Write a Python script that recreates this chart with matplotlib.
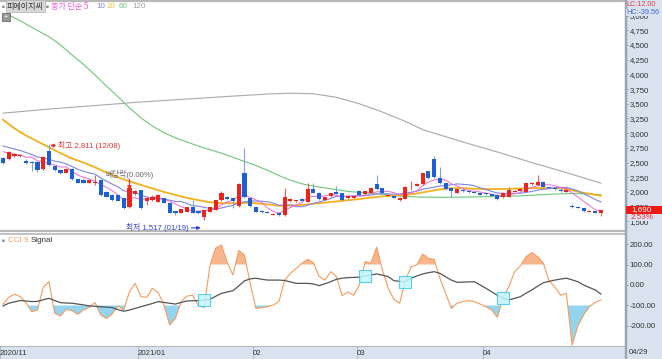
import numpy as np
import pandas as pd
import matplotlib
matplotlib.use('Agg')
import matplotlib.pyplot as plt
from matplotlib.patches import Rectangle
from matplotlib.ticker import FuncFormatter, MultipleLocator

plt.rcParams['font.family'] = ['Liberation Sans Narrow', 'Liberation Sans', 'Noto Sans CJK KR']

# %% data
stock_name = '피에이치씨'
month_labels = ['2020/11', '2021/01', '02', '03', '04']
month_start = [0, 24, 44, 62, 84]
last_date = '04/29'

opens = [2572, 2555, 2615, 2610, 2520, 2505, 2515, 2385, 2700, 2442,
         2374, 2330, 2385, 2215, 2204, 2158, 2150, 2204, 2005, 1948,
         1948, 1892, 1740, 1965, 2033, 1852, 1863, 1835, 1892, 1818,
         1675, 1648, 1665, 1738, 1670, 1580, 1665, 1693, 1863, 1920,
         1892, 1761, 2328, 1892, 1738, 1680, 1665, 1614, 1637, 1608,
         1850, 1840, 1880, 1835, 2045, 1990, 1870, 1930, 2005, 1977,
         1890, 1895, 2015, 1965, 1990, 2130, 2060, 1940, 1935, 1865,
         1880, 2060, 2110, 2130, 2350, 2555, 2230, 2150, 2062, 1990,
         2030, 2010, 1995, 1990, 1985, 1965, 1950, 1909, 1920, 2000,
         2020, 2005, 2130, 2118, 2175, 2080, 2070, 2040, 2000, 1760,
         1745, 1720, 1660, 1670, 1640]
highs = [2600, 2700, 2665, 2650, 2560, 2520, 2520, 2610, 2811, 2450,
         2390, 2400, 2400, 2225, 2215, 2220, 2290, 2215, 2015, 1960,
         1955, 1900, 2070, 2040, 2040, 1920, 1950, 1960, 1900, 1830,
         1680, 1715, 1745, 1863, 1680, 1700, 1750, 1870, 2010, 1930,
         1900, 2150, 2742, 1900, 1745, 1695, 1670, 1640, 1645, 2062,
         1900, 1870, 1890, 2150, 2160, 2000, 1920, 1990, 2100, 1985,
         1940, 1940, 2030, 2020, 2075, 2290, 2070, 1965, 1945, 1910,
         2100, 2190, 2150, 2330, 2360, 2612, 2430, 2160, 2070, 2060,
         2060, 2020, 2005, 2000, 1990, 1970, 1960, 1995, 2090, 2035,
         2060, 2155, 2165, 2290, 2180, 2090, 2075, 2062, 2079, 1790,
         1755, 1725, 1690, 1675, 1700]
lows = [2470, 2540, 2600, 2590, 2480, 2360, 2345, 2370, 2440, 2360,
        2300, 2320, 2200, 2150, 2150, 2150, 2120, 1940, 1910, 1855,
        1845, 1715, 1730, 1950, 1710, 1780, 1840, 1830, 1810, 1640,
        1610, 1640, 1660, 1640, 1625, 1517, 1660, 1690, 1850, 1865,
        1722, 1750, 1900, 1750, 1660, 1640, 1640, 1605, 1595, 1600,
        1830, 1830, 1840, 1830, 1980, 1870, 1860, 1920, 1960, 1855,
        1880, 1890, 1940, 1955, 1985, 2040, 1970, 1930, 1890, 1850,
        1875, 2040, 2100, 2125, 2220, 2240, 2140, 2040, 1920, 1985,
        2000, 1985, 1975, 1945, 1950, 1930, 1860, 1900, 1910, 1995,
        2015, 2000, 2120, 2110, 2085, 2050, 2040, 2005, 1995, 1720,
        1725, 1665, 1655, 1645, 1600]
closes = [2487, 2685, 2650, 2630, 2500, 2490, 2370, 2600, 2460, 2374,
          2317, 2385, 2215, 2158, 2158, 2204, 2170, 1948, 1920, 1863,
          1852, 1722, 2062, 2016, 1722, 1892, 1920, 1948, 1818, 1648,
          1640, 1705, 1738, 1648, 1637, 1693, 1738, 1863, 1977, 1875,
          1846, 2135, 1920, 1761, 1665, 1654, 1648, 1630, 1603, 1920,
          1880, 1860, 1850, 2045, 1990, 1880, 1910, 1977, 1965, 1863,
          1930, 1930, 1950, 2010, 2065, 2050, 1977, 1955, 1895, 1900,
          2090, 2075, 2140, 2320, 2230, 2260, 2150, 2050, 2010, 2050,
          2020, 1995, 1985, 1950, 1960, 1935, 1875, 1985, 2030, 2020,
          2045, 2147, 2150, 2175, 2090, 2060, 2050, 2010, 2040, 1750,
          1730, 1670, 1680, 1648, 1690]
pre_close = [2950, 2900, 2880, 2850, 2830, 2780, 2760, 2700, 2690]

ma20_idx = [0, 2, 4, 6, 8, 10, 12, 14, 16, 18, 20, 22, 24, 26, 28, 30, 32, 34, 36, 38,
            40, 42, 44, 46, 48, 50, 52, 54, 56, 58, 60, 62, 64, 66, 68, 70, 72, 74, 76, 78,
            80, 82, 84, 86, 88, 90, 92, 94, 96, 98, 100, 102, 104]
ma20_val = [3230, 3080, 2960, 2860, 2760, 2660, 2570, 2500, 2420, 2330, 2250, 2180, 2120, 2060,
            2000, 1950, 1900, 1860, 1825, 1810, 1810, 1815, 1810, 1790, 1765, 1770, 1780, 1800,
            1820, 1840, 1860, 1880, 1905, 1925, 1940, 1950, 1975, 2010, 2045, 2065, 2065, 2055,
            2050, 2050, 2055, 2060, 2065, 2068, 2065, 2050, 2005, 1970, 1935]
ma60_idx = [1, 3, 5, 8, 10, 12, 14, 16, 18, 20, 22, 24, 26, 28, 30, 32, 34, 36, 38, 40, 42, 44,
            46, 48, 50, 52, 54, 56, 58, 60, 63, 66, 69, 72, 75, 78, 81, 84, 87, 90, 93, 96, 99,
            102, 104]
ma60_val = [5010, 4910, 4800, 4640, 4500, 4330, 4170, 3990, 3800, 3620, 3430, 3260, 3120, 3010,
            2920, 2850, 2780, 2720, 2660, 2590, 2520, 2450, 2370, 2280, 2200, 2140, 2100, 2070,
            2040, 2010, 1985, 1960, 1930, 1915, 1910, 1910, 1915, 1920, 1925, 1935, 1950, 1965,
            1975, 1965, 1955]
ma120_idx = [0, 8, 16, 24, 32, 40, 46, 50, 54, 58, 62, 66, 70, 73, 80, 86, 92, 98, 104]
ma120_val = [3340, 3410, 3470, 3530, 3580, 3630, 3665, 3680, 3670, 3610, 3500, 3360, 3200,
             3060, 2850, 2680, 2500, 2330, 2150]

cci = [-93, -60, -44, -57, -86, -130, -122, -11, 16, -138,
       -151, -119, -125, -143, -122, -109, -86, -146, -163, -141,
       -102, -122, -33, 8, -57, -60, -16, -37, -98, -195,
       -163, -81, -54, -50, -102, -109, 95, 180, 195, 110,
       49, 168, 146, 8, -114, -111, -106, -98, -81, 24,
       57, 81, 106, 125, 109, 41, 24, 65, 41, -52,
       -34, -50, 0, 114, 106, 184, 73, -16, -70, -89,
       24, 89, 98, 151, 130, 125, 33, -41, -114, -89,
       -81, -76, -81, -93, -106, -122, -158, -60, -8, 65,
       93, 138, 158, 138, 106, 20, -10, -50, -41, -293,
       -200, -146, -106, -85, -73]
signal = [-102, -89, -82, -76, -78, -81, -80, -72, -65, -76,
          -86, -88, -89, -93, -97, -102, -104, -106, -108, -110,
          -120, -128, -122, -114, -106, -98, -90, -81, -85, -89,
          -93, -85, -78, -77, -76, -73, -70, -55, -41, -34,
          -28, -5, 20, 30, 33, 28, 24, 24, 24, 22,
          15, 8, 8, 8, 5, -3, 6, 16, 28, 33,
          36, 37, 38, 44, 49, 54, 48, 41, 21, 18,
          16, 33, 44, 54, 60, 65, 57, 40, 24, 13,
          14, 15, 16, 0, -16, -33, -50, -65, -73, -65,
          -57, -40, -24, -6, 11, 18, 24, 29, 33, 25,
          16, 0, -12, -24, -44]
cross_idx = [35, 63, 70, 87]

last_price = '1,690'
last_change = '2.53%'

# %% figure
W, H = 662, 359
fig = plt.figure(figsize=(W / 100, H / 100), dpi=100)


def box(x0, y0, x1, y1):
    return [x0 / W, 1 - y1 / H, (x1 - x0) / W, (y1 - y0) / H]


strip = '#d9e3ef'
fig.add_artist(Rectangle((625 / W, 0), 37 / W, 1, transform=fig.transFigure,
                         color=strip, zorder=-1))
fig.add_artist(Rectangle((0, 0), 1, 12 / H, transform=fig.transFigure,
                         color=strip, zorder=-1))

ax = fig.add_axes(box(0, 1, 625, 231))
ax2 = fig.add_axes(box(0, 234, 625, 346), sharex=ax)

n = len(closes)
idx = np.arange(n)
o = np.array(opens, float)
h = np.array(highs, float)
l = np.array(lows, float)
c = np.array(closes, float)

up_c, dn_c = '#ec2419', '#1d5fd5'
up_w, dn_w = '#f06058', '#79a2ea'
up = c >= o
body_lo = np.minimum(o, c)
body_h = np.maximum(np.abs(c - o), 6)

ax.vlines(idx[up], l[up], h[up], color=up_w, lw=0.8, zorder=3)
ax.vlines(idx[~up], l[~up], h[~up], color=dn_w, lw=0.8, zorder=3)
ax.bar(idx[up], body_h[up], bottom=body_lo[up], width=0.72, color=up_c, lw=0, zorder=4)
ax.bar(idx[~up], body_h[~up], bottom=body_lo[~up], width=0.72, color=dn_c, lw=0, zorder=4)

# moving averages
full = pd.Series(pre_close + closes, dtype=float)
ma5 = full.rolling(5).mean().values[len(pre_close):]
ma10 = full.rolling(10).mean().values[len(pre_close):]
ax.plot(ma120_idx, ma120_val, color='#a9a9a9', lw=0.8, zorder=2)
ax.plot(ma60_idx, ma60_val, color='#6cc878', lw=0.8, zorder=2)
ax.plot(ma20_idx, ma20_val, color='#f4b01e', lw=1.3, zorder=2)
ax.plot(idx, ma10, color='#7d86e6', lw=0.8, zorder=2)
ax.plot(idx, ma5, color='#f06ad8', lw=0.7, zorder=2)

ax.set_xlim(-0.52, 108.2)
ax.set_ylim(1337, 5247)

# annotations
red, blue = '#e8322a', '#2f3fd8'
hi = int(np.argmax(h))
lo = int(np.argmin(l))
ax.annotate('최고 2,811 (12/08)', xy=(hi + 0.2, 2790), xytext=(hi + 1.6, 2790),
            color=red, fontsize=5.6, va='center', ha='left',
            arrowprops=dict(arrowstyle='-|>', color=red, lw=0.8, mutation_scale=5,
                            shrinkA=0, shrinkB=0))
ax.annotate('최저 1,517 (01/19)', xy=(lo - 0.6, 1390), xytext=(lo - 2.7, 1390),
            color=blue, fontsize=5.6, va='center', ha='right',
            arrowprops=dict(arrowstyle='-|>', color=blue, lw=0.8, mutation_scale=5,
                            shrinkA=0, shrinkB=0))
ax.text(22, 2306, '배당락(0.00%)', color='#666666', fontsize=5.6, ha='center', va='center',
        zorder=6)
ax.annotate('', xy=(22, 2030), xytext=(22, 2215),
            arrowprops=dict(arrowstyle='-|>', color=red, lw=0.8, mutation_scale=6,
                            shrinkA=0, shrinkB=0))

# CCI panel
cci_a = np.array(cci, float)
sig_a = np.array(signal, float)
ax2.fill_between(idx, 100, cci_a, where=cci_a > 100, interpolate=True, color='#f8b68c', lw=0)
ax2.fill_between(idx, -100, cci_a, where=cci_a < -100, interpolate=True, color='#93d4ef', lw=0)
ax2.plot(idx, cci_a, color='#f79b5c', lw=0.8, zorder=3)
ax2.plot(idx, sig_a, color='#555555', lw=0.9, zorder=3)
ax2.scatter(cross_idx, sig_a[cross_idx], marker='s', s=78, facecolor='#c2f6ff',
            edgecolor='#3ccbea', lw=0.8, alpha=0.85, zorder=4)
ax2.set_ylim(-297.6, 248.8)

# axes styling
grid_c = '#b8b8b8'
for a in (ax, ax2):
    a.yaxis.tick_right()
    a.tick_params(axis='y', direction='out', length=2, width=0.5, pad=1.2,
                  labelsize=5.6, colors='#333333', color='#777777')
    a.tick_params(axis='y', which='minor', direction='out', length=1.2, width=0.4,
                  color='#888888')
    for s in a.spines.values():
        s.set_color(grid_c)
        s.set_linewidth(0.8)
    a.spines['left'].set_visible(False)

ax.spines['bottom'].set_linewidth(1.6)
ax.spines['top'].set_linewidth(1.6)
ax2.spines['top'].set_linewidth(1.2)
ax.yaxis.set_major_locator(MultipleLocator(250))
ax.yaxis.set_minor_locator(MultipleLocator(50))
ax.yaxis.set_major_formatter(FuncFormatter(lambda v, p: f'{v:,.0f}'))
ax2.yaxis.set_major_locator(MultipleLocator(100))
ax2.yaxis.set_minor_locator(MultipleLocator(20))
ax2.yaxis.set_major_formatter(FuncFormatter(lambda v, p: f'{v:,.2f}'))
plt.setp(ax.get_xticklabels(), visible=False)
ax.tick_params(axis='x', length=0)

ax2.set_xticks([m - 0.5 for m in month_start])
ax2.set_xticklabels(month_labels, ha='left')
ax2.tick_params(axis='x', direction='out', length=12, width=0.5, color='#9aa6b4',
                pad=-9, labelsize=5.6, labelcolor='#333333')

# header texts
fs = 5.8
fig.text(2 / W, 1 - 6 / H, '■', fontsize=3.5, color='#8a8a8a', va='center')
fig.text(7 / W, 1 - 6 / H, stock_name, fontsize=fs, color='#333333', va='center',
         family=['Noto Sans CJK KR'],
         bbox=dict(boxstyle='square,pad=0.15', facecolor='#d8d8d8', edgecolor='#b0b0b0', lw=0.5))
fig.text(46 / W, 1 - 6 / H, '■', fontsize=3.5, color='#8a8a8a', va='center')
fig.text(51 / W, 1 - 6 / H, '종가 단순 5', fontsize=fs, color='#ee5ad4', va='center',
         family=['Noto Sans CJK KR'])
fig.text(96 / W, 1 - 6 / H, '10', fontsize=fs, color='#7d86e6', va='center')
fig.text(107 / W, 1 - 6 / H, '20', fontsize=fs, color='#f2c64a', va='center')
fig.text(119 / W, 1 - 6 / H, '60', fontsize=fs, color='#6cc878', va='center')
fig.text(132 / W, 1 - 6 / H, '120', fontsize=fs, color='#a0a0a0', va='center')
fig.add_artist(Rectangle((2 / W, 1 - 21 / H), 8 / W, 8 / H, transform=fig.transFigure,
                         facecolor='#9a9a9a', edgecolor='#6a6a6a', lw=0.6))
fig.text(6 / W, 1 - 17 / H, '+', fontsize=5, color='white', ha='center', va='center')

fig.text(2 / W, 1 - 240 / H, '■', fontsize=3.5, color='#8a8a8a', va='center')
fig.text(8 / W, 1 - 240 / H, 'CCI 9', fontsize=fs, color='#f79b5c', va='center')
fig.text(31 / W, 1 - 240 / H, 'Signal', fontsize=fs, color='#333333', va='center')

fig.text(626 / W, 1 - 5 / H, 'LC:12.00', fontsize=5.2, color='#e04040', va='center', zorder=6)
fig.text(626 / W, 1 - 12.5 / H, 'HC:-39.56', fontsize=5.2, color='#3f63e0', va='center', zorder=6,
         bbox=dict(boxstyle='square,pad=0.05', facecolor=strip, edgecolor='none'))

fig.add_artist(Rectangle((626 / W, 1 - 213.5 / H), 36 / W, 8 / H, transform=fig.transFigure,
                         facecolor='#ee1c14', edgecolor='none', zorder=6))
fig.text(631 / W, 1 - 209.5 / H, last_price, fontsize=fs, color='white', va='center', zorder=7)
fig.text(631 / W, 1 - 217.5 / H, last_change, fontsize=fs, color='#ee3030', va='center', zorder=7,
         bbox=dict(boxstyle='square,pad=0.05', facecolor=strip, edgecolor='none'))

fig.text(629 / W, 1 - 353 / H, last_date, fontsize=5.6, color='#333333', va='center')
fig.add_artist(Rectangle((625 / W, 0), 0.7 / W, 1, transform=fig.transFigure,
                         color='#9aa6b4', zorder=5))

fig.savefig('out.png', dpi=100)
